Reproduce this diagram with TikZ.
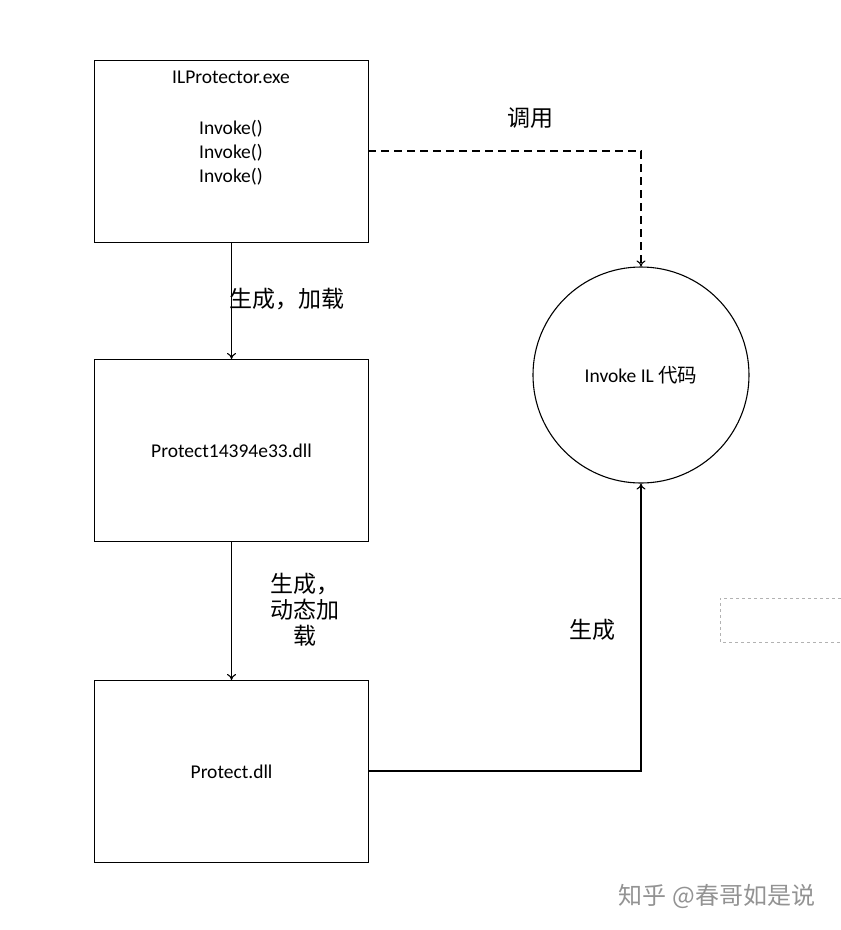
\documentclass[tikz,border=0pt]{standalone}
\usepackage{fontspec}
\usetikzlibrary{arrows.meta}
\setmainfont{Carlito}
\newfontfamily\cjk{Noto Sans CJK SC}
\begin{document}
\begin{tikzpicture}[x=1pt,y=-1pt,line width=1.1pt,
  arr/.style={-{To[length=6pt,width=9pt]}},
  box/.style={draw,minimum width=274pt,minimum height=182pt,anchor=north west,inner sep=0pt},
  lbl/.style={font=\fontsize{23}{26}\selectfont\cjk,align=center},
  txt/.style={font=\fontsize{19.5}{24}\selectfont,align=center}]
\useasboundingbox (0,0) rectangle (841,930);
\node[box] (exe) at (94,60) {};
\node[txt,anchor=north] at (231,67) {ILProtector.exe\\[27pt]Invoke()\\Invoke()\\Invoke()};
\node[box] (p1) at (94,359) {};
\node[txt] at (p1.center) {Protect14394e33.dll};
\node[box] (p2) at (94,680) {};
\node[txt] at (p2.center) {Protect.dll};
\node[draw,circle,minimum size=216pt,inner sep=0pt] (il) at (641,375) {};
\node[txt] at (il.center) {Invoke IL {\cjk 代码}};
\coordinate (a) at (368,151);
\coordinate (b) at (368,771);
\draw[arr,dashed,dash pattern=on 8pt off 5pt] (a) -| (il.north);
\draw[arr] (b) -| (il.south);
\draw[arr] (exe.south) -- (p1.north);
\draw[arr] (p1.south) -- (p2.north);
\node[lbl] at (530,118) {调用};
\node[lbl] at (287,299) {生成，加载};
\node[lbl] at (305,610) {生成，\\动态加\\载};
\node[lbl] at (592,630) {生成};
\draw[gray!60,dashed,line width=0.6pt] (841,598) -- (720,598) -- (720,642) -- (841,642);
\node[font=\fontsize{24}{28}\selectfont\cjk,text=gray!85] at (717,896) {知乎 @春哥如是说};
\end{tikzpicture}
\end{document}
